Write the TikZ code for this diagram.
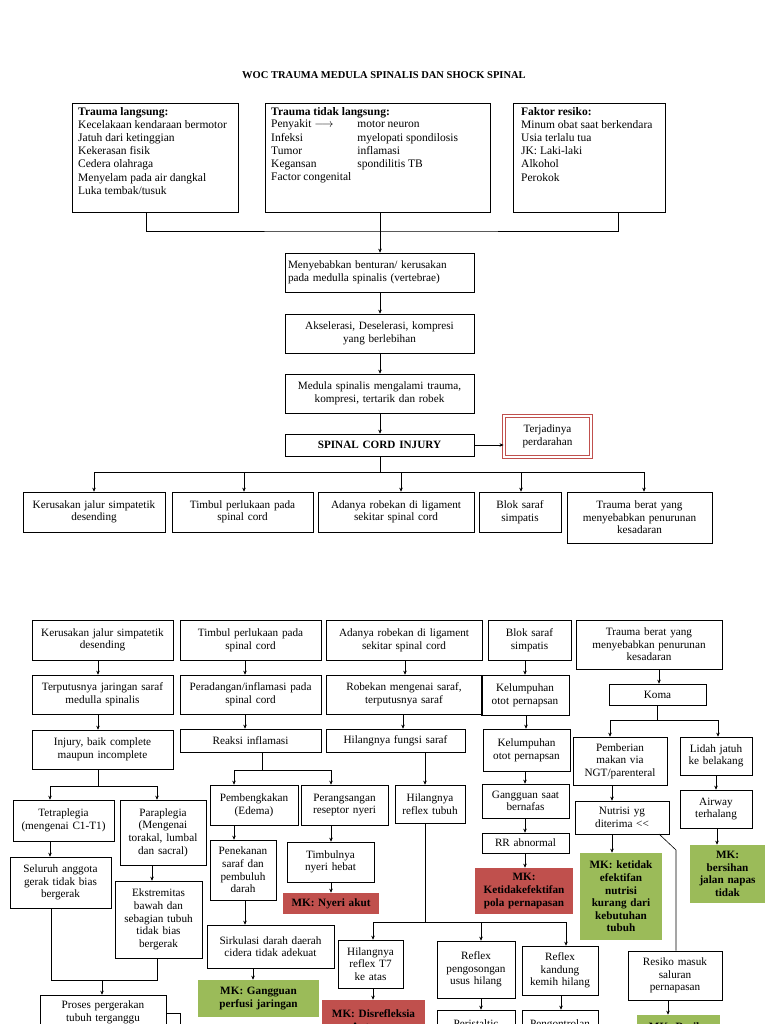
\documentclass[tikz,border=0pt]{standalone}
\usepackage{fontspec}
\setmainfont{Liberation Serif}
\usetikzlibrary{arrows.meta}
\definecolor{mkred}{HTML}{C0504D}
\definecolor{mkgreen}{HTML}{9BBB59}
\newcommand\bx[7][]{%
 \pgfmathsetmacro\bw{#5-#3}\pgfmathsetmacro\bh{#6-#4}\pgfmathsetmacro\tw{#5-#3-6}%
 \node[box,minimum width=\bw pt,minimum height=\bh pt,text width=\tw pt,#1] (#2) at ({(#3+#5)/2},{(#4+#6)/2}) {#7};}
\begin{document}
\begin{tikzpicture}[x=1pt,y=-1pt,
 box/.style={draw,line width=0.6pt,align=center,inner sep=3pt,font=\fontsize{11.2}{12.6}\selectfont},
 toptext/.style={anchor=north west,align=left,inner sep=0pt,font=\fontsize{11.5}{13.2}\selectfont},
 red/.style={fill=mkred,draw=none,font=\fontsize{11.2}{12.6}\selectfont\bfseries},
 grn/.style={fill=mkgreen,draw=none,font=\fontsize{11.2}{12.6}\selectfont\bfseries},
 arr/.style={line width=0.6pt,-{Stealth[length=4pt,width=3.5pt]}},
 ln/.style={line width=0.6pt}]
\useasboundingbox (0,0) rectangle (768,1024);
\clip (0,0) rectangle (768,1024);
\fill[white] (0,0) rectangle (768,1024);
\node[font=\fontsize{10.5}{12}\selectfont\bfseries] (title) at (384,75) {WOC TRAUMA MEDULA SPINALIS DAN SHOCK SPINAL};
% top
\bx{A}{72}{103}{238}{212}{}
\bx{B}{265}{103}{490}{212}{}
\bx{C}{513}{103}{665}{212}{}
\node[toptext] (At) at (78,107) {\textbf{Trauma langsung:}\\Kecelakaan kendaraan bermotor\\Jatuh dari ketinggian\\Kekerasan fisik\\Cedera olahraga\\Menyelam pada air dangkal\\Luka tembak/tusuk};
\node[toptext] (Bt) at (271,107) {\textbf{Trauma tidak langsung:}\\\begin{tabular}{@{}l@{\hspace{6pt}}l@{}}Penyakit $\longrightarrow$ & motor neuron\\Infeksi & myelopati spondilosis\\Tumor & inflamasi\\Kegansan & spondilitis TB\\Factor congenital &\end{tabular}};
\node[toptext] (Ct) at (521,107) {\textbf{Faktor resiko:}\\Minum obat saat berkendara\\Usia terlalu tua\\JK: Laki-laki\\Alkohol\\Perokok};
\coordinate (jn) at (380,231);
\draw[ln] (A.south -| 146,0) |- (jn) -| (C.south -| 618,0);
\draw[ln] (B.south -| 380,0) -- (jn);
\bx[align=left]{D}{285}{253}{474}{292}{Menyebabkan benturan/ kerusakan\\pada medulla spinalis (vertebrae)}
\draw[arr] (jn) -- (D.north -| jn);
\bx{E}{285}{314}{474}{353}{Akselerasi, Deselerasi, kompresi\\yang berlebihan}
\bx{F}{285}{374}{474}{413}{Medula spinalis mengalami trauma,\\kompresi, tertarik dan robek}
\bx[font=\fontsize{11.2}{12.6}\selectfont\bfseries]{G}{285}{434}{474}{456}{SPINAL CORD INJURY}
\draw[arr] (D.south -| 380,0) -- (E.north -| 380,0);
\draw[arr] (E.south -| 380,0) -- (F.north -| 380,0);
\draw[arr] (F.south -| 380,0) -- (G.north -| 380,0);
\bx[draw=mkred,line width=0.9pt,double=white,double distance=1.6pt]{H}{504}{416}{591}{457}{Terjadinya\\perdarahan}
\draw[arr] (G.east) -- (H.west |- G.east);
\bx{R1}{23}{492}{165}{532}{Kerusakan jalur simpatetik\\desending}
\bx{R2}{172}{492}{313}{532}{Timbul perlukaan pada\\spinal cord}
\bx{R3}{318}{492}{474}{532}{Adanya robekan di ligament\\sekitar spinal cord}
\bx{R4}{479}{492}{561}{532}{Blok saraf\\simpatis}
\bx{R5}{567}{492}{712}{543}{Trauma berat yang\\menyebabkan penurunan\\kesadaran}
\coordinate (j2) at (380,472);
\draw[ln] (G.south -| j2) -- (j2);
\draw[ln] (94,472) -- (644,472);
\foreach \n/\x in {R1/94,R2/244,R3/401,R4/521,R5/644} \draw[arr] (\x,472) -- (\n.north -| \x,0);
% ---------- bottom section
% col1
\bx{a1}{32}{620}{173}{660}{Kerusakan jalur simpatetik\\desending}
\bx{a2}{32}{675}{173}{714}{Terputusnya jaringan saraf\\medulla spinalis}
\bx{a3}{32}{730}{173}{769}{Injury, baik complete\\maupun incomplete}
\draw[arr] (a1.south -| 98,0) -- (a2.north -| 98,0);
\draw[arr] (a2.south -| 98,0) -- (a3.north -| 98,0);
\bx{a4}{13}{800}{114}{841}{Tetraplegia\\(mengenai C1-T1)}
\bx{a5}{120}{800}{206}{865}{Paraplegia\\(Mengenai\\torakal, lumbal\\dan sacral)}
\draw[ln] (a3.south -| 98,0) -- (98,786);
\draw[arr] (98,786) -| (a4.north -| 50,0);
\draw[arr] (98,786) -| (a5.north -| 157,0);
\bx{a6}{10}{857}{111}{908}{Seluruh anggota\\gerak tidak bias\\bergerak}
\bx{a7}{115}{881}{202}{958}{Ekstremitas\\bawah dan\\sebagian tubuh\\tidak bias\\bergerak}
\draw[arr] (a4.south -| 50,0) -- (a6.north -| 50,0);
\draw[arr] (a5.south -| 152,0) -- (a7.north -| 152,0);
\bx{a8}{40}{995}{166}{1040}{Proses pergerakan\\tubuh terganggu\\\mbox{}}
\draw[ln] (a6.south -| 51,0) |- (157,980) -- (a7.south -| 157,0);
\draw[arr] (102,980) -- (a8.north -| 102,0);
\draw[ln] (a8.east |- 0,1013) -- (180,1013) -- (180,1030);
% col2
\bx{b1}{180}{620}{321}{660}{Timbul perlukaan pada\\spinal cord}
\bx{b2}{180}{675}{321}{714}{Peradangan/inflamasi pada\\spinal cord}
\bx{b3}{180}{729}{321}{752}{Reaksi inflamasi}
\draw[arr] (b1.south -| 245,0) -- (b2.north -| 245,0);
\draw[arr] (b2.south -| 245,0) -- (b3.north -| 245,0);
\bx{b4}{210}{785}{298}{825}{Pembengkakan\\(Edema)}
\bx{b5}{301}{785}{388}{825}{Perangsangan\\reseptor nyeri}
\draw[ln] (b3.south -| 262,0) -- (262,770);
\draw[arr] (234,770) -- (b4.north -| 234,0);
\draw[arr] (234,770) -- (331,770) -- (b5.north -| 331,0);
\bx{b6}{210}{840}{276}{900}{Penekanan\\saraf dan\\pembuluh\\darah}
\bx{b7}{287}{842}{374}{882}{Timbulnya\\nyeri hebat}
\bx[red]{b8}{283}{893}{379}{914}{MK: Nyeri akut}
\draw[arr] (b4.south -| 234,0) -- (b6.north -| 234,0);
\draw[arr] (b5.south -| 331,0) -- (b7.north -| 331,0);
\draw[arr] (b7.south -| 331,0) -- (b8.north -| 331,0);
\bx{b9}{207}{925}{334}{968}{Sirkulasi darah daerah\\cidera tidak adekuat}
\bx[grn]{b10}{198}{980}{319}{1017}{MK: Gangguan\\perfusi jaringan}
\draw[arr] (b6.south -| 245,0) -- (b9.north -| 245,0);
\draw[arr] (b9.south -| 253,0) -- (b10.north -| 253,0);
% col3
\bx{c1}{326}{620}{482}{660}{Adanya robekan di ligament\\sekitar spinal cord}
\bx{c2}{326}{675}{482}{714}{Robekan mengenai saraf,\\terputusnya saraf}
\bx{c3}{326}{729}{465}{752}{Hilangnya fungsi saraf}
\draw[arr] (c1.south -| 405,0) -- (c2.north -| 405,0);
\draw[arr] (c2.south -| 403,0) -- (c3.north -| 403,0);
\bx{c4}{395}{785}{465}{823}{Hilangnya\\reflex tubuh}
\draw[arr] (c3.south -| 425,0) -- (c4.north -| 425,0);
\bx{c5}{338}{940}{403}{988}{Hilangnya\\reflex T7\\ke atas}
\bx{c6}{437}{941}{515}{998}{Reflex\\pengosongan\\usus hilang}
\bx{c7}{522}{946}{598}{995}{Reflex\\kandung\\kemih hilang}
\draw[ln] (c4.south -| 425,0) -- (425,922);
\draw[arr] (425,922) -| (c5.north -| 373,0);
\draw[arr] (425,922) -| (c7.north -| 566,0);
\draw[arr] (481,922) -- (c6.north -| 481,0);
\bx[red]{c8}{322}{1000}{425}{1040}{MK: Disrefleksia\\Autonom}
\bx{c9}{437}{1010}{515}{1050}{Peristaltic\\\mbox{}}
\bx{c10}{522}{1010}{598}{1050}{Pengontrolan\\\mbox{}}
\draw[arr] (c5.south -| 373,0) -- (c8.north -| 373,0);
\draw[arr] (c6.south -| 481,0) -- (c9.north -| 481,0);
\draw[arr] (c7.south -| 561,0) -- (c10.north -| 561,0);
% col4
\bx{d1}{488}{620}{571}{660}{Blok saraf\\simpatis}
\bx{d2}{481}{675}{569}{715}{Kelumpuhan\\otot pernapsan}
\bx{d3}{483}{729}{570}{771}{Kelumpuhan\\otot pernapsan}
\bx{d4}{482}{784}{569}{818}{Gangguan saat\\bernafas}
\bx{d5}{482}{833}{569}{853}{RR abnormal}
\bx[red]{d6}{475}{868}{573}{914}{MK:\\Ketidakefektifan\\pola pernapasan}
\draw[arr] (d1.south -| 525,0) -- (d2.north -| 525,0);
\draw[arr] (d2.south -| 526,0) -- (d3.north -| 526,0);
\draw[arr] (d3.south -| 525,0) -- (d4.north -| 525,0);
\draw[arr] (d4.south -| 525,0) -- (d5.north -| 525,0);
\draw[arr] (d5.south -| 525,0) -- (d6.north -| 525,0);
% col5
\bx{e1}{576}{620}{722}{669}{Trauma berat yang\\menyebabkan penurunan\\kesadaran}
\bx{e2}{609}{684}{706}{705}{Koma}
\draw[arr] (e1.south -| 659,0) -- (e2.north -| 659,0);
\bx{e3}{573}{737}{667}{785}{Pemberian\\makan via\\NGT/parenteral}
\bx{e4}{680}{737}{752}{775}{Lidah jatuh\\ke belakang}
\draw[ln] (e2.south -| 657,0) -- (657,720);
\draw[arr] (657,720) -| (e3.north -| 610,0);
\draw[arr] (657,720) -| (e4.north -| 718,0);
\bx{e5}{575}{801}{669}{834}{Nutrisi yg\\diterima <{}<}
\bx[grn]{e6}{580}{853}{662}{940}{MK: ketidak\\efektifan\\nutrisi\\kurang dari\\kebutuhan\\tubuh}
\draw[arr] (e3.south -| 612,0) -- (e5.north -| 612,0);
\draw[arr] (e5.south -| 612,0) -- (e6.north -| 612,0);
\bx{e7}{680}{790}{752}{828}{Airway\\terhalang}
\bx[grn]{e8}{690}{845}{765}{903}{MK:\\bersihan\\jalan napas\\tidak}
\draw[arr] (e4.south -| 716,0) -- (e7.north -| 716,0);
\draw[arr] (e7.south -| 717,0) -- (e8.north -| 717,0);
\bx{e9}{628}{951}{722}{1000}{Resiko masuk\\saluran\\pernapasan}
\draw[ln] (659,834) -- (676,850) -- (e9.north -| 676,0);
\bx[grn]{e10}{637}{1015}{720}{1050}{MK: Resiko\\\mbox{}}
\draw[arr] (e9.south -| 668,0) -- (e10.north -| 668,0);
\end{tikzpicture}
\end{document}
